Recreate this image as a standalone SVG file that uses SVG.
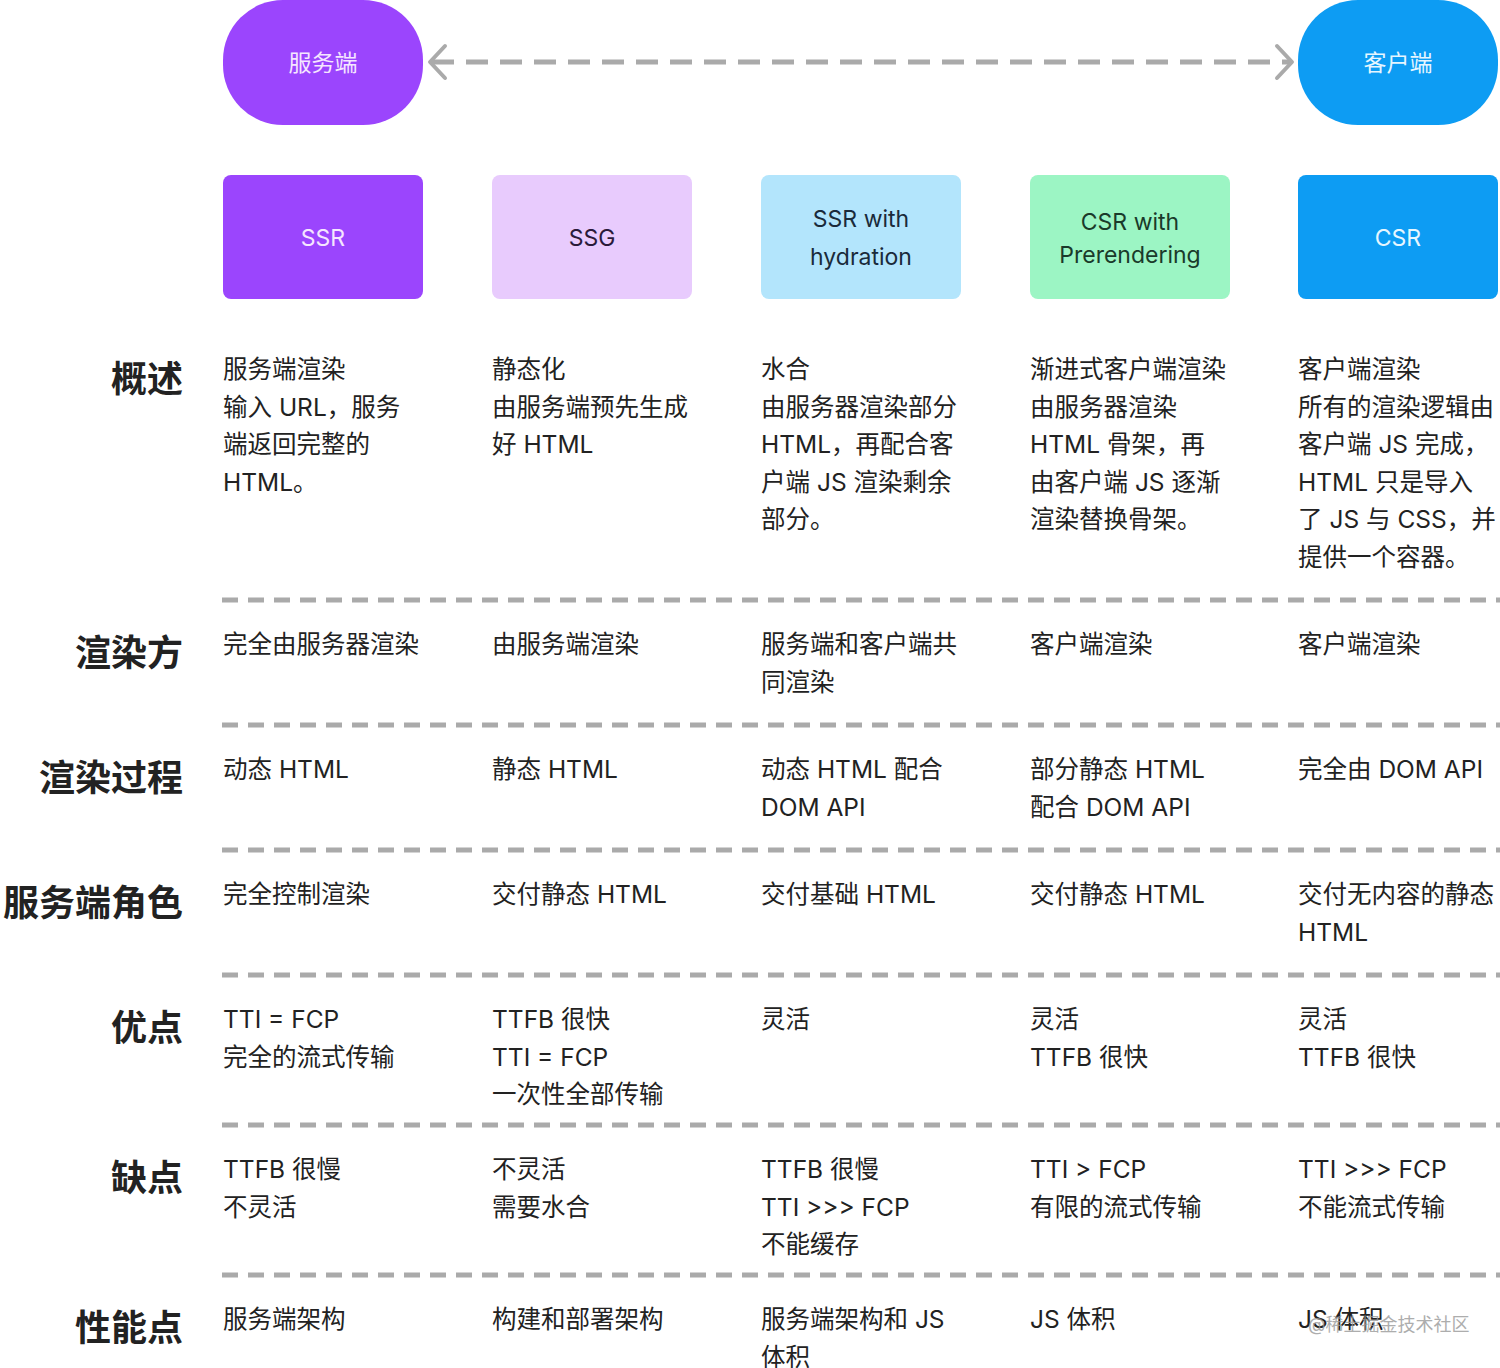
<svg xmlns="http://www.w3.org/2000/svg" width="1500" height="1368" viewBox="0 0 1500 1368">
<defs>
<style>
text{font-family:"Inter","Noto Sans CJK SC",sans-serif}
.c{font-size:24.5px;fill:#222}
.h{font-size:36px;font-weight:bold;fill:#222;text-anchor:end}
.b{font-size:23px;text-anchor:middle}
.sep{stroke:#aaa;stroke-width:5;stroke-dasharray:16 10}
.chev{fill:none;stroke:#aaa;stroke-width:4;stroke-linecap:round;stroke-linejoin:round}
</style>
</defs>
<rect width="1500" height="1368" fill="#fff"/>
<g id="connectors">
<line x1="432" y1="62" x2="1290" y2="62" stroke="#aaa" stroke-width="5" stroke-dasharray="22 12"/>
<path class="chev" d="M445,46 L430,62 L445,78"/>
<path class="chev" d="M1277,46 L1292,62 L1277,78"/>
</g>
<g id="server"><rect x="223" y="0" width="200" height="125" rx="60" fill="#9b45fd"/><text class="b" x="323" y="71" fill="#f5e6ff">服务端</text></g>
<g id="client"><rect x="1298" y="0" width="200" height="125" rx="60" fill="#0d9cf3"/><text class="b" x="1398" y="71" fill="#e6f6ff">客户端</text></g>
<g id="ssr"><rect x="223" y="175" width="200" height="124" rx="8" fill="#9b45fd"/><text class="b" x="323" y="246" fill="#f5e6ff">SSR</text></g>
<g id="ssg"><rect x="492" y="175" width="200" height="124" rx="8" fill="#e8cbfd"/><text class="b" x="592" y="246" fill="#2a1a3a">SSG</text></g>
<g id="hyd"><rect x="761" y="175" width="200" height="124" rx="8" fill="#b3e5fc"/><text class="b" x="861" y="227" fill="#1a2a3a">SSR with</text><text class="b" x="861" y="265" fill="#1a2a3a">hydration</text></g>
<g id="pre"><rect x="1030" y="175" width="200" height="124" rx="8" fill="#9cf5c4"/><text class="b" x="1130" y="230" fill="#1a3a2a" font-size="22">CSR with</text><text class="b" x="1130" y="263" fill="#1a3a2a" font-size="22">Prerendering</text></g>
<g id="csr"><rect x="1298" y="175" width="200" height="124" rx="8" fill="#0d9cf3"/><text class="b" x="1398" y="246" fill="#e6f6ff">CSR</text></g>
<g id="separators">
<line class="sep" x1="222" y1="600" x2="1500" y2="600"/><line class="sep" x1="222" y1="725" x2="1500" y2="725"/><line class="sep" x1="222" y1="850" x2="1500" y2="850"/><line class="sep" x1="222" y1="975" x2="1500" y2="975"/><line class="sep" x1="222" y1="1125" x2="1500" y2="1125"/><line class="sep" x1="222" y1="1275" x2="1500" y2="1275"/>
</g>
<g id="labels">
<text class="h" x="183" y="392">概述</text><text class="h" x="183" y="666">渲染方</text><text class="h" x="183" y="791">渲染过程</text><text class="h" x="183" y="916">服务端角色</text><text class="h" x="183" y="1041">优点</text><text class="h" x="183" y="1191">缺点</text><text class="h" x="183" y="1341">性能点</text>
</g>
<g id="cells">
<text class="c" x="223" y="378"><tspan x="223">服务端渲染</tspan><tspan x="223" dy="37.5">输入 URL，服务</tspan><tspan x="223" dy="37.5">端返回完整的</tspan><tspan x="223" dy="37.5">HTML。</tspan></text>
<text class="c" x="492" y="378"><tspan x="492">静态化</tspan><tspan x="492" dy="37.5">由服务端预先生成</tspan><tspan x="492" dy="37.5">好 HTML</tspan></text>
<text class="c" x="761" y="378"><tspan x="761">水合</tspan><tspan x="761" dy="37.5">由服务器渲染部分</tspan><tspan x="761" dy="37.5">HTML，再配合客</tspan><tspan x="761" dy="37.5">户端 JS 渲染剩余</tspan><tspan x="761" dy="37.5">部分。</tspan></text>
<text class="c" x="1030" y="378"><tspan x="1030">渐进式客户端渲染</tspan><tspan x="1030" dy="37.5">由服务器渲染</tspan><tspan x="1030" dy="37.5">HTML 骨架，再</tspan><tspan x="1030" dy="37.5">由客户端 JS 逐渐</tspan><tspan x="1030" dy="37.5">渲染替换骨架。</tspan></text>
<text class="c" x="1298" y="378"><tspan x="1298">客户端渲染</tspan><tspan x="1298" dy="37.5">所有的渲染逻辑由</tspan><tspan x="1298" dy="37.5">客户端 JS 完成，</tspan><tspan x="1298" dy="37.5">HTML 只是导入</tspan><tspan x="1298" dy="37.5">了 JS 与 CSS，并</tspan><tspan x="1298" dy="37.5">提供一个容器。</tspan></text>

<text class="c" x="223" y="653">完全由服务器渲染</text>
<text class="c" x="492" y="653">由服务端渲染</text>
<text class="c" x="761" y="653"><tspan x="761">服务端和客户端共</tspan><tspan x="761" dy="37.5">同渲染</tspan></text>
<text class="c" x="1030" y="653">客户端渲染</text>
<text class="c" x="1298" y="653">客户端渲染</text>

<text class="c" x="223" y="778">动态 HTML</text>
<text class="c" x="492" y="778">静态 HTML</text>
<text class="c" x="761" y="778"><tspan x="761">动态 HTML 配合</tspan><tspan x="761" dy="37.5">DOM API</tspan></text>
<text class="c" x="1030" y="778"><tspan x="1030">部分静态 HTML</tspan><tspan x="1030" dy="37.5">配合 DOM API</tspan></text>
<text class="c" x="1298" y="778">完全由 DOM API</text>

<text class="c" x="223" y="903">完全控制渲染</text>
<text class="c" x="492" y="903">交付静态 HTML</text>
<text class="c" x="761" y="903">交付基础 HTML</text>
<text class="c" x="1030" y="903">交付静态 HTML</text>
<text class="c" x="1298" y="903"><tspan x="1298">交付无内容的静态</tspan><tspan x="1298" dy="37.5">HTML</tspan></text>

<text class="c" x="223" y="1028"><tspan x="223">TTI = FCP</tspan><tspan x="223" dy="37.5">完全的流式传输</tspan></text>
<text class="c" x="492" y="1028"><tspan x="492">TTFB 很快</tspan><tspan x="492" dy="37.5">TTI = FCP</tspan><tspan x="492" dy="37.5">一次性全部传输</tspan></text>
<text class="c" x="761" y="1028">灵活</text>
<text class="c" x="1030" y="1028"><tspan x="1030">灵活</tspan><tspan x="1030" dy="37.5">TTFB 很快</tspan></text>
<text class="c" x="1298" y="1028"><tspan x="1298">灵活</tspan><tspan x="1298" dy="37.5">TTFB 很快</tspan></text>

<text class="c" x="223" y="1178"><tspan x="223">TTFB 很慢</tspan><tspan x="223" dy="37.5">不灵活</tspan></text>
<text class="c" x="492" y="1178"><tspan x="492">不灵活</tspan><tspan x="492" dy="37.5">需要水合</tspan></text>
<text class="c" x="761" y="1178"><tspan x="761">TTFB 很慢</tspan><tspan x="761" dy="37.5">TTI &gt;&gt;&gt; FCP</tspan><tspan x="761" dy="37.5">不能缓存</tspan></text>
<text class="c" x="1030" y="1178"><tspan x="1030">TTI &gt; FCP</tspan><tspan x="1030" dy="37.5">有限的流式传输</tspan></text>
<text class="c" x="1298" y="1178"><tspan x="1298">TTI &gt;&gt;&gt; FCP</tspan><tspan x="1298" dy="37.5">不能流式传输</tspan></text>

<text class="c" x="223" y="1328">服务端架构</text>
<text class="c" x="492" y="1328">构建和部署架构</text>
<text class="c" x="761" y="1328"><tspan x="761">服务端架构和 JS</tspan><tspan x="761" dy="37.5">体积</tspan></text>
<text class="c" x="1030" y="1328">JS 体积</text>
<text class="c" x="1298" y="1328">JS 体积</text>
</g>
<text x="1308" y="1331" font-size="18" fill="#999" opacity="0.8">@稀土掘金技术社区</text>
</svg>
